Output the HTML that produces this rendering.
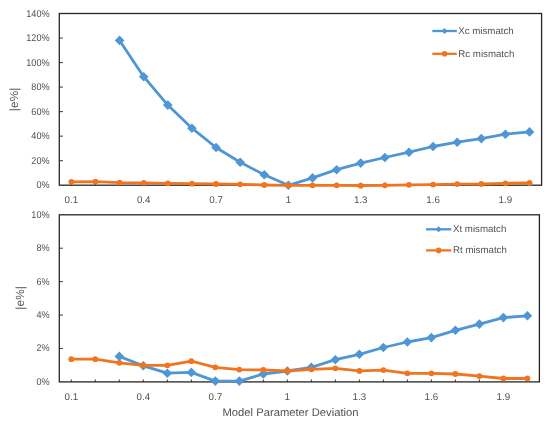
<!DOCTYPE html>
<html><head><meta charset="utf-8"><title>Mismatch chart</title>
<style>
html,body{margin:0;padding:0;background:#fff;}
svg{display:block;}
text{text-rendering:geometricPrecision;font-family:"Liberation Sans",sans-serif;fill:#505050;}
.t{font-size:9.8px;}
.lg{font-size:9.7px;}
.ti{font-size:11px;}
.yt{font-size:11.8px;letter-spacing:0.1px;}
.ax{stroke:#262626;stroke-width:1.3;}
.axt{stroke:#444;stroke-width:1.1;}
</style></head><body>
<svg width="550" height="423" viewBox="0 0 550 423">
<rect x="0" y="0" width="550" height="423" fill="#fff"/>
<text transform="translate(49.6,188.20) scale(0.93,1)" text-anchor="end" class="t">0%</text>
<line x1="59.3" y1="160.67" x2="62.9" y2="160.67" class="axt"/>
<text transform="translate(49.6,163.67) scale(0.93,1)" text-anchor="end" class="t">20%</text>
<line x1="59.3" y1="136.14" x2="62.9" y2="136.14" class="axt"/>
<text transform="translate(49.6,139.14) scale(0.93,1)" text-anchor="end" class="t">40%</text>
<line x1="59.3" y1="111.61" x2="62.9" y2="111.61" class="axt"/>
<text transform="translate(49.6,114.61) scale(0.93,1)" text-anchor="end" class="t">60%</text>
<line x1="59.3" y1="87.09" x2="62.9" y2="87.09" class="axt"/>
<text transform="translate(49.6,90.09) scale(0.93,1)" text-anchor="end" class="t">80%</text>
<line x1="59.3" y1="62.56" x2="62.9" y2="62.56" class="axt"/>
<text transform="translate(49.6,65.56) scale(0.93,1)" text-anchor="end" class="t">100%</text>
<line x1="59.3" y1="38.03" x2="62.9" y2="38.03" class="axt"/>
<text transform="translate(49.6,41.03) scale(0.93,1)" text-anchor="end" class="t">120%</text>
<text transform="translate(49.6,16.50) scale(0.93,1)" text-anchor="end" class="t">140%</text>
<line x1="71.36" y1="185.2" x2="71.36" y2="182.79999999999998" class="axt"/>
<line x1="95.47" y1="185.2" x2="95.47" y2="182.79999999999998" class="axt"/>
<line x1="119.59" y1="185.2" x2="119.59" y2="182.79999999999998" class="axt"/>
<line x1="143.70" y1="185.2" x2="143.70" y2="182.79999999999998" class="axt"/>
<line x1="167.82" y1="185.2" x2="167.82" y2="182.79999999999998" class="axt"/>
<line x1="191.93" y1="185.2" x2="191.93" y2="182.79999999999998" class="axt"/>
<line x1="216.05" y1="185.2" x2="216.05" y2="182.79999999999998" class="axt"/>
<line x1="240.16" y1="185.2" x2="240.16" y2="182.79999999999998" class="axt"/>
<line x1="264.28" y1="185.2" x2="264.28" y2="182.79999999999998" class="axt"/>
<line x1="288.39" y1="185.2" x2="288.39" y2="182.79999999999998" class="axt"/>
<line x1="312.51" y1="185.2" x2="312.51" y2="182.79999999999998" class="axt"/>
<line x1="336.62" y1="185.2" x2="336.62" y2="182.79999999999998" class="axt"/>
<line x1="360.74" y1="185.2" x2="360.74" y2="182.79999999999998" class="axt"/>
<line x1="384.85" y1="185.2" x2="384.85" y2="182.79999999999998" class="axt"/>
<line x1="408.97" y1="185.2" x2="408.97" y2="182.79999999999998" class="axt"/>
<line x1="433.08" y1="185.2" x2="433.08" y2="182.79999999999998" class="axt"/>
<line x1="457.20" y1="185.2" x2="457.20" y2="182.79999999999998" class="axt"/>
<line x1="481.31" y1="185.2" x2="481.31" y2="182.79999999999998" class="axt"/>
<line x1="505.43" y1="185.2" x2="505.43" y2="182.79999999999998" class="axt"/>
<line x1="529.54" y1="185.2" x2="529.54" y2="182.79999999999998" class="axt"/>
<text x="71.36" y="202.80" text-anchor="middle" class="t">0.1</text>
<text x="143.70" y="202.80" text-anchor="middle" class="t">0.4</text>
<text x="216.05" y="202.80" text-anchor="middle" class="t">0.7</text>
<text x="288.39" y="202.80" text-anchor="middle" class="t">1</text>
<text x="360.74" y="202.80" text-anchor="middle" class="t">1.3</text>
<text x="433.08" y="202.80" text-anchor="middle" class="t">1.6</text>
<text x="505.43" y="202.80" text-anchor="middle" class="t">1.9</text>
<rect x="59.3" y="13.5" width="482.3" height="171.7" fill="none" class="ax"/>
<polyline points="119.59,40.4 143.70,76.7 167.82,105.1 191.93,128.2 216.05,147.5 240.16,162.3 264.28,174.8 288.39,185.3 312.51,177.9 336.62,169.7 360.74,163.1 384.85,157.5 408.97,152.2 433.08,146.5 457.20,142.2 481.31,138.6 505.43,134.2 529.54,131.9" fill="none" stroke="#4e96d6" stroke-width="2.8" stroke-linejoin="round" stroke-linecap="round"/>
<path d="M114.79 40.4L119.59 35.6L124.39 40.4L119.59 45.199999999999996Z" fill="#4e96d6"/>
<path d="M138.90 76.7L143.70 71.9L148.50 76.7L143.70 81.5Z" fill="#4e96d6"/>
<path d="M163.02 105.1L167.82 100.3L172.62 105.1L167.82 109.89999999999999Z" fill="#4e96d6"/>
<path d="M187.13 128.2L191.93 123.39999999999999L196.73 128.2L191.93 133.0Z" fill="#4e96d6"/>
<path d="M211.25 147.5L216.05 142.7L220.85 147.5L216.05 152.3Z" fill="#4e96d6"/>
<path d="M235.36 162.3L240.16 157.5L244.96 162.3L240.16 167.10000000000002Z" fill="#4e96d6"/>
<path d="M259.48 174.8L264.28 170.0L269.08 174.8L264.28 179.60000000000002Z" fill="#4e96d6"/>
<path d="M283.59 185.3L288.39 180.5L293.19 185.3L288.39 190.10000000000002Z" fill="#4e96d6"/>
<path d="M307.71 177.9L312.51 173.1L317.31 177.9L312.51 182.70000000000002Z" fill="#4e96d6"/>
<path d="M331.82 169.7L336.62 164.89999999999998L341.42 169.7L336.62 174.5Z" fill="#4e96d6"/>
<path d="M355.94 163.1L360.74 158.29999999999998L365.54 163.1L360.74 167.9Z" fill="#4e96d6"/>
<path d="M380.05 157.5L384.85 152.7L389.65 157.5L384.85 162.3Z" fill="#4e96d6"/>
<path d="M404.17 152.2L408.97 147.39999999999998L413.77 152.2L408.97 157.0Z" fill="#4e96d6"/>
<path d="M428.28 146.5L433.08 141.7L437.88 146.5L433.08 151.3Z" fill="#4e96d6"/>
<path d="M452.40 142.2L457.20 137.39999999999998L462.00 142.2L457.20 147.0Z" fill="#4e96d6"/>
<path d="M476.51 138.6L481.31 133.79999999999998L486.11 138.6L481.31 143.4Z" fill="#4e96d6"/>
<path d="M500.63 134.2L505.43 129.39999999999998L510.23 134.2L505.43 139.0Z" fill="#4e96d6"/>
<path d="M524.74 131.9L529.54 127.10000000000001L534.34 131.9L529.54 136.70000000000002Z" fill="#4e96d6"/>
<polyline points="71.36,181.8 95.47,181.6 119.59,182.6 143.70,182.8 167.82,183.3 191.93,183.7 216.05,184 240.16,184.3 264.28,185 288.39,185.4 312.51,185.3 336.62,185.3 360.74,185.7 384.85,185.3 408.97,184.8 433.08,184.6 457.20,184.1 481.31,184 505.43,183.3 529.54,183" fill="none" stroke="#f07520" stroke-width="2.8" stroke-linejoin="round" stroke-linecap="round"/>
<circle cx="71.36" cy="181.8" r="2.9" fill="#f07520"/>
<circle cx="95.47" cy="181.6" r="2.9" fill="#f07520"/>
<circle cx="119.59" cy="182.6" r="2.9" fill="#f07520"/>
<circle cx="143.70" cy="182.8" r="2.9" fill="#f07520"/>
<circle cx="167.82" cy="183.3" r="2.9" fill="#f07520"/>
<circle cx="191.93" cy="183.7" r="2.9" fill="#f07520"/>
<circle cx="216.05" cy="184" r="2.9" fill="#f07520"/>
<circle cx="240.16" cy="184.3" r="2.9" fill="#f07520"/>
<circle cx="264.28" cy="185" r="2.9" fill="#f07520"/>
<circle cx="288.39" cy="185.4" r="2.9" fill="#f07520"/>
<circle cx="312.51" cy="185.3" r="2.9" fill="#f07520"/>
<circle cx="336.62" cy="185.3" r="2.9" fill="#f07520"/>
<circle cx="360.74" cy="185.7" r="2.9" fill="#f07520"/>
<circle cx="384.85" cy="185.3" r="2.9" fill="#f07520"/>
<circle cx="408.97" cy="184.8" r="2.9" fill="#f07520"/>
<circle cx="433.08" cy="184.6" r="2.9" fill="#f07520"/>
<circle cx="457.20" cy="184.1" r="2.9" fill="#f07520"/>
<circle cx="481.31" cy="184" r="2.9" fill="#f07520"/>
<circle cx="505.43" cy="183.3" r="2.9" fill="#f07520"/>
<circle cx="529.54" cy="183" r="2.9" fill="#f07520"/>
<line x1="432.3" y1="31.0" x2="456.8" y2="31.0" stroke="#4e96d6" stroke-width="2.3"/>
<path d="M441.55 31.0L444.55 28.0L447.55 31.0L444.55 34.0Z" fill="#4e96d6"/>
<text x="458.3" y="34.0" class="lg">Xc mismatch</text>
<line x1="432.3" y1="53.8" x2="456.8" y2="53.8" stroke="#f07520" stroke-width="2.3"/>
<circle cx="444.55" cy="53.8" r="2.8" fill="#f07520"/>
<text x="458.3" y="57.0" class="lg">Rc mismatch</text>
<text transform="translate(49.6,384.90) scale(0.93,1)" text-anchor="end" class="t">0%</text>
<line x1="59.3" y1="348.48" x2="62.9" y2="348.48" class="axt"/>
<text transform="translate(49.6,351.48) scale(0.93,1)" text-anchor="end" class="t">2%</text>
<line x1="59.3" y1="315.06" x2="62.9" y2="315.06" class="axt"/>
<text transform="translate(49.6,318.06) scale(0.93,1)" text-anchor="end" class="t">4%</text>
<line x1="59.3" y1="281.64" x2="62.9" y2="281.64" class="axt"/>
<text transform="translate(49.6,284.64) scale(0.93,1)" text-anchor="end" class="t">6%</text>
<line x1="59.3" y1="248.22" x2="62.9" y2="248.22" class="axt"/>
<text transform="translate(49.6,251.22) scale(0.93,1)" text-anchor="end" class="t">8%</text>
<text transform="translate(49.6,217.80) scale(0.93,1)" text-anchor="end" class="t">10%</text>
<line x1="71.30" y1="381.9" x2="71.30" y2="379.5" class="axt"/>
<line x1="95.31" y1="381.9" x2="95.31" y2="379.5" class="axt"/>
<line x1="119.31" y1="381.9" x2="119.31" y2="379.5" class="axt"/>
<line x1="143.32" y1="381.9" x2="143.32" y2="379.5" class="axt"/>
<line x1="167.32" y1="381.9" x2="167.32" y2="379.5" class="axt"/>
<line x1="191.33" y1="381.9" x2="191.33" y2="379.5" class="axt"/>
<line x1="215.33" y1="381.9" x2="215.33" y2="379.5" class="axt"/>
<line x1="239.34" y1="381.9" x2="239.34" y2="379.5" class="axt"/>
<line x1="263.34" y1="381.9" x2="263.34" y2="379.5" class="axt"/>
<line x1="287.35" y1="381.9" x2="287.35" y2="379.5" class="axt"/>
<line x1="311.35" y1="381.9" x2="311.35" y2="379.5" class="axt"/>
<line x1="335.36" y1="381.9" x2="335.36" y2="379.5" class="axt"/>
<line x1="359.36" y1="381.9" x2="359.36" y2="379.5" class="axt"/>
<line x1="383.37" y1="381.9" x2="383.37" y2="379.5" class="axt"/>
<line x1="407.37" y1="381.9" x2="407.37" y2="379.5" class="axt"/>
<line x1="431.38" y1="381.9" x2="431.38" y2="379.5" class="axt"/>
<line x1="455.38" y1="381.9" x2="455.38" y2="379.5" class="axt"/>
<line x1="479.39" y1="381.9" x2="479.39" y2="379.5" class="axt"/>
<line x1="503.39" y1="381.9" x2="503.39" y2="379.5" class="axt"/>
<line x1="527.40" y1="381.9" x2="527.40" y2="379.5" class="axt"/>
<text x="71.30" y="399.50" text-anchor="middle" class="t">0.1</text>
<text x="143.32" y="399.50" text-anchor="middle" class="t">0.4</text>
<text x="215.33" y="399.50" text-anchor="middle" class="t">0.7</text>
<text x="287.35" y="399.50" text-anchor="middle" class="t">1</text>
<text x="359.36" y="399.50" text-anchor="middle" class="t">1.3</text>
<text x="431.38" y="399.50" text-anchor="middle" class="t">1.6</text>
<text x="503.39" y="399.50" text-anchor="middle" class="t">1.9</text>
<rect x="59.3" y="214.8" width="480.09999999999997" height="167.09999999999997" fill="none" class="ax"/>
<polyline points="119.31,356.4 143.32,365.8 167.32,373.2 191.33,372.4 215.33,381.1 239.34,381.1 263.34,374 287.35,371 311.35,367.3 335.36,359.7 359.36,354.3 383.37,347.5 407.37,342 431.38,337.6 455.38,330.3 479.39,324.1 503.39,317.6 527.40,315.8" fill="none" stroke="#4e96d6" stroke-width="2.8" stroke-linejoin="round" stroke-linecap="round"/>
<path d="M114.51 356.4L119.31 351.59999999999997L124.11 356.4L119.31 361.2Z" fill="#4e96d6"/>
<path d="M138.52 365.8L143.32 361.0L148.12 365.8L143.32 370.6Z" fill="#4e96d6"/>
<path d="M162.52 373.2L167.32 368.4L172.12 373.2L167.32 378.0Z" fill="#4e96d6"/>
<path d="M186.53 372.4L191.33 367.59999999999997L196.13 372.4L191.33 377.2Z" fill="#4e96d6"/>
<path d="M210.53 381.1L215.33 376.3L220.13 381.1L215.33 385.90000000000003Z" fill="#4e96d6"/>
<path d="M234.54 381.1L239.34 376.3L244.14 381.1L239.34 385.90000000000003Z" fill="#4e96d6"/>
<path d="M258.54 374L263.34 369.2L268.14 374L263.34 378.8Z" fill="#4e96d6"/>
<path d="M282.55 371L287.35 366.2L292.15 371L287.35 375.8Z" fill="#4e96d6"/>
<path d="M306.55 367.3L311.35 362.5L316.15 367.3L311.35 372.1Z" fill="#4e96d6"/>
<path d="M330.56 359.7L335.36 354.9L340.16 359.7L335.36 364.5Z" fill="#4e96d6"/>
<path d="M354.56 354.3L359.36 349.5L364.16 354.3L359.36 359.1Z" fill="#4e96d6"/>
<path d="M378.57 347.5L383.37 342.7L388.17 347.5L383.37 352.3Z" fill="#4e96d6"/>
<path d="M402.57 342L407.37 337.2L412.17 342L407.37 346.8Z" fill="#4e96d6"/>
<path d="M426.58 337.6L431.38 332.8L436.18 337.6L431.38 342.40000000000003Z" fill="#4e96d6"/>
<path d="M450.58 330.3L455.38 325.5L460.18 330.3L455.38 335.1Z" fill="#4e96d6"/>
<path d="M474.59 324.1L479.39 319.3L484.19 324.1L479.39 328.90000000000003Z" fill="#4e96d6"/>
<path d="M498.59 317.6L503.39 312.8L508.19 317.6L503.39 322.40000000000003Z" fill="#4e96d6"/>
<path d="M522.60 315.8L527.40 311.0L532.20 315.8L527.40 320.6Z" fill="#4e96d6"/>
<polyline points="71.30,359.2 95.31,359.2 119.31,362.8 143.32,365.3 167.32,365.3 191.33,361.2 215.33,367.3 239.34,369.6 263.34,369.9 287.35,371 311.35,369.3 335.36,368.3 359.36,370.9 383.37,370.1 407.37,373.3 431.38,373.3 455.38,374 479.39,376.1 503.39,378.5 527.40,378.5" fill="none" stroke="#f07520" stroke-width="2.8" stroke-linejoin="round" stroke-linecap="round"/>
<circle cx="71.30" cy="359.2" r="2.9" fill="#f07520"/>
<circle cx="95.31" cy="359.2" r="2.9" fill="#f07520"/>
<circle cx="119.31" cy="362.8" r="2.9" fill="#f07520"/>
<circle cx="143.32" cy="365.3" r="2.9" fill="#f07520"/>
<circle cx="167.32" cy="365.3" r="2.9" fill="#f07520"/>
<circle cx="191.33" cy="361.2" r="2.9" fill="#f07520"/>
<circle cx="215.33" cy="367.3" r="2.9" fill="#f07520"/>
<circle cx="239.34" cy="369.6" r="2.9" fill="#f07520"/>
<circle cx="263.34" cy="369.9" r="2.9" fill="#f07520"/>
<circle cx="287.35" cy="371" r="2.9" fill="#f07520"/>
<circle cx="311.35" cy="369.3" r="2.9" fill="#f07520"/>
<circle cx="335.36" cy="368.3" r="2.9" fill="#f07520"/>
<circle cx="359.36" cy="370.9" r="2.9" fill="#f07520"/>
<circle cx="383.37" cy="370.1" r="2.9" fill="#f07520"/>
<circle cx="407.37" cy="373.3" r="2.9" fill="#f07520"/>
<circle cx="431.38" cy="373.3" r="2.9" fill="#f07520"/>
<circle cx="455.38" cy="374" r="2.9" fill="#f07520"/>
<circle cx="479.39" cy="376.1" r="2.9" fill="#f07520"/>
<circle cx="503.39" cy="378.5" r="2.9" fill="#f07520"/>
<circle cx="527.40" cy="378.5" r="2.9" fill="#f07520"/>
<line x1="426" y1="229.3" x2="451.3" y2="229.3" stroke="#4e96d6" stroke-width="2.3"/>
<path d="M435.65 229.3L438.65 226.3L441.65 229.3L438.65 232.3Z" fill="#4e96d6"/>
<text x="453.0" y="232.2" class="lg">Xt mismatch</text>
<line x1="426" y1="250.4" x2="451.3" y2="250.4" stroke="#f07520" stroke-width="2.3"/>
<circle cx="438.65" cy="250.4" r="2.8" fill="#f07520"/>
<text x="453.0" y="253.4" class="lg">Rt mismatch</text>
<text transform="translate(18.3,99.4) rotate(-90)" text-anchor="middle" class="yt">|e%|</text>
<text transform="translate(23.5,297.9) rotate(-90)" text-anchor="middle" class="yt">|e%|</text>
<text transform="translate(290.5,415.8) scale(1.02,1)" text-anchor="middle" class="ti">Model Parameter Deviation</text>
</svg>
</body></html>
